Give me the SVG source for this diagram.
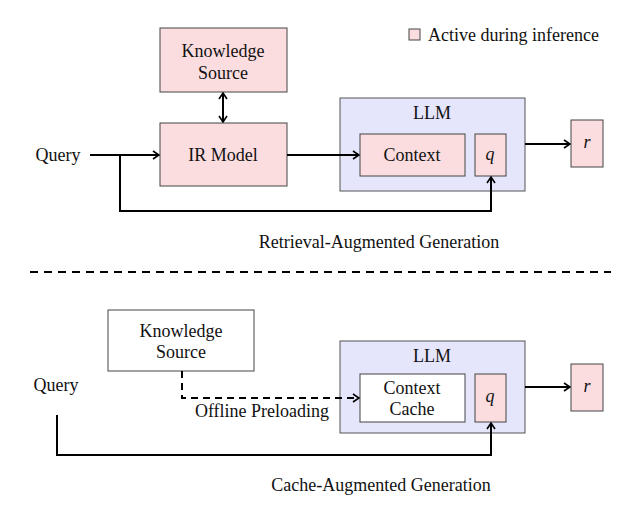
<svg xmlns="http://www.w3.org/2000/svg" width="621" height="509" viewBox="0 0 621 509">
<style>
text{font-family:"Liberation Serif",serif;font-size:18px;fill:#111;text-anchor:middle}
.p{fill:#fbdde0;stroke:#444;stroke-width:1}
.w{fill:#fff;stroke:#444;stroke-width:1}
.b{fill:#e5e5fb;stroke:#555;stroke-width:1}
.c{fill:none;stroke:#000;stroke-width:2}
.i{font-style:italic}
</style>
<defs>
<marker id="a" viewBox="0 0 10 10" refX="9" refY="5" markerWidth="10" markerHeight="10" markerUnits="userSpaceOnUse" orient="auto-start-reverse"><path d="M3,1 L9,5 L3,9" fill="none" stroke="#000" stroke-width="1.6"/></marker>
</defs>
<g id="legend"><rect x="409" y="29" width="11" height="11" class="p"/><text x="428" y="41" style="text-anchor:start">Active during inference</text></g>
<g id="ks1"><rect x="160" y="28" width="127" height="64" class="p"/><text x="223" y="57">Knowledge</text><text x="223" y="79">Source</text></g>
<g id="ir"><rect x="160" y="123" width="127" height="63" class="p"/><text x="223" y="161">IR Model</text></g>
<g id="llm1"><rect x="340" y="98" width="185" height="93" class="b"/><text x="432" y="119">LLM</text></g>
<g id="ctx1"><rect x="360" y="134" width="105" height="42" class="p"/><text x="412" y="161">Context</text></g>
<g id="q1"><rect x="475" y="134" width="31" height="42" class="p"/><text x="490" y="160" class="i">q</text></g>
<g id="r1"><rect x="571" y="120" width="32" height="47" class="p"/><text x="587" y="148" class="i">r</text></g>
<g id="query1"><text x="58" y="161">Query</text></g>
<text x="379" y="248">Retrieval-Augmented Generation</text>
<line x1="30" y1="272" x2="611" y2="272" stroke="#000" stroke-width="2" stroke-dasharray="8,6"/>
<g id="ks2"><rect x="108" y="310" width="146" height="61" class="w"/><text x="181" y="337">Knowledge</text><text x="181" y="358">Source</text></g>
<g id="llm2"><rect x="340" y="341" width="185" height="92" class="b"/><text x="432" y="362">LLM</text></g>
<g id="ctx2"><rect x="360" y="374" width="105" height="48" class="w"/><text x="412" y="394">Context</text><text x="412" y="415">Cache</text></g>
<g id="q2"><rect x="475" y="374" width="31" height="48" class="p"/><text x="490" y="402" class="i">q</text></g>
<g id="r2"><rect x="571" y="364" width="32" height="47" class="p"/><text x="587" y="392" class="i">r</text></g>
<g id="query2"><text x="56" y="391">Query</text></g>
<text x="262" y="417">Offline Preloading</text>
<text x="381" y="491">Cache-Augmented Generation</text>
<g id="connectors">
<path d="M90,155 H159" class="c" marker-end="url(#a)"/>
<path d="M120,155 V211 H491 V177" class="c" marker-end="url(#a)"/>
<path d="M223,93 V122" class="c" marker-start="url(#a)" marker-end="url(#a)"/>
<path d="M287,155 H359" class="c" marker-end="url(#a)"/>
<path d="M525,144 H570" class="c" marker-end="url(#a)"/>
<path d="M182,371 V398 H359" class="c" stroke-dasharray="7,5" marker-end="url(#a)"/>
<path d="M57,415 V455 H491 V423" class="c" marker-end="url(#a)"/>
<path d="M525,387 H570" class="c" marker-end="url(#a)"/>
</g>
</svg>
